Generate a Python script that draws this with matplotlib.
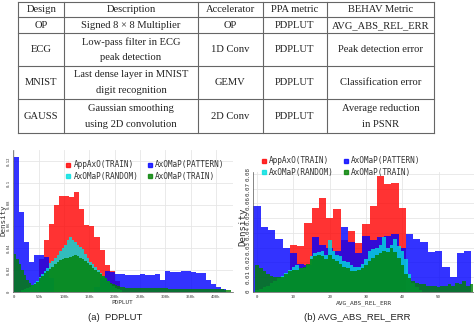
import numpy as np
import matplotlib.pyplot as plt
from matplotlib.lines import Line2D

W, H = 474, 325

# ---- table ----
TABLE_HEADER = ["Design", "Description", "Accelerator", "PPA metric", "BEHAV Metric"]
TABLE_ROWS = [
    ["OP", "Signed 8 × 8 Multiplier", "OP", "PDPLUT", "AVG_ABS_REL_ERR"],
    ["ECG", "Low-pass filter in ECG\npeak detection", "1D Conv", "PDPLUT", "Peak detection error"],
    ["MNIST", "Last dense layer in MNIST\ndigit recognition", "GEMV", "PDPLUT", "Classification error"],
    ["GAUSS", "Gaussian smoothing\nusing 2D convolution", "2D Conv", "PDPLUT", "Average reduction\nin PSNR"],
]

# ---- histograms ----
SERIES = ["AppAxO(TRAIN)", "AxOMaP(PATTERN)", "AxOMaP(RANDOM)", "AxOMaP(TRAIN)"]
COLORS = ["#ff0000", "#0000ff", "#00e0e0", "#008000"]

# PDPLUT (thousands), red/blue 10k bins from 0, cyan/green 5k bins from 0
pdp_red = [0, 0, 0, 0, 0, 0.030, 0.047, 0.062, 0.080, 0.088, 0.088, 0.087, 0.092, 0.076,
           0.061, 0.060, 0.050, 0.038, 0.024, 0.019, 0.010]
pdp_blue = [0.124, 0.073, 0.046, 0.027, 0.034, 0.034, 0.032, 0.012, 0, 0, 0, 0, 0, 0, 0, 0,
            0.004, 0.012, 0.019, 0.018, 0.016, 0.016, 0.015, 0.015, 0.015, 0.016, 0.015,
            0.015, 0.016, 0.011, 0.019, 0.018, 0.018, 0.019, 0.019, 0.018, 0.017, 0.017,
            0.011, 0.007, 0.004, 0.002]
pdp_cyan = [0, 0, 0, 0.001, 0.002, 0.003, 0.004, 0.006, 0.008, 0.010, 0.013, 0.016, 0.019,
            0.022, 0.026, 0.028, 0.031, 0.034, 0.037, 0.040, 0.043, 0.047, 0.050, 0.047,
            0.046, 0.043, 0.041, 0.039, 0.035, 0.031, 0.027, 0.025, 0.023, 0.020, 0.017,
            0.014, 0.012, 0.010, 0.007, 0.005, 0.003, 0.002, 0.001]
pdp_green = [0.035, 0.030, 0.025, 0.020, 0.015, 0.011, 0.008, 0.006, 0.007, 0.009, 0.012,
             0.014, 0.017, 0.019, 0.021, 0.023, 0.025, 0.027, 0.029, 0.030, 0.031, 0.031,
             0.032, 0.033, 0.034, 0.033, 0.031, 0.030, 0.028, 0.026, 0.024, 0.022, 0.020,
             0.018, 0.016, 0.014, 0.012, 0.010, 0.008, 0.007, 0.006, 0.005, 0.004, 0.004,
             0.003, 0.003, 0.003, 0.003, 0.003, 0.003, 0.003, 0.003, 0.003, 0.003, 0.003,
             0.003, 0.003, 0.003, 0.003, 0.003, 0.003, 0.002, 0.002, 0.002, 0.002, 0.002,
             0.002, 0.002, 0.002, 0.002, 0.002, 0.002, 0.002, 0.002, 0.002, 0.002, 0.002,
             0.002, 0.002, 0.002, 0.002, 0.002, 0.002, 0.001, 0.001, 0.001]

# AVG_ABS_REL_ERR, red/blue 2-wide bins from -1, cyan/green 1-wide bins from -0.5
err_red = [0, 0, 0, 0, 0, 0.032, 0.031, 0.047, 0.057, 0.064, 0.050, 0.056, 0.035, 0.041,
           0.033, 0.046, 0.058, 0.079, 0.073, 0.074, 0.057]
err_blue = [0.058, 0.044, 0.042, 0.036, 0.030, 0.026, 0.019, 0.018, 0.037, 0.032, 0.030,
            0.028, 0.044, 0.034, 0.026, 0.038, 0.035, 0.037, 0.038, 0.039, 0.030, 0.039,
            0.036, 0.034, 0.027, 0.028, 0.017, 0.010, 0.026, 0.028]
err_cyan = [0.001, 0.002, 0.003, 0.004, 0.006, 0.007, 0.009, 0.011, 0.013, 0.015, 0.017,
            0.018, 0.016, 0.016, 0.018, 0.024, 0.026, 0.027, 0.028, 0.025, 0.035, 0.028,
            0.025, 0.024, 0.021, 0.020, 0.018, 0.017, 0.017, 0.019, 0.022, 0.028, 0.029,
            0.030, 0.032, 0.037, 0.030, 0.032, 0.036, 0.031, 0.028, 0.022, 0.012, 0.006,
            0.003, 0.001]
err_green = [0.018, 0.016, 0.014, 0.012, 0.011, 0.010, 0.010, 0.010, 0.012, 0.014, 0.015,
             0.015, 0.016, 0.017, 0.019, 0.022, 0.024, 0.025, 0.024, 0.022, 0.025, 0.022,
             0.021, 0.019, 0.017, 0.016, 0.014, 0.014, 0.015, 0.016, 0.018, 0.021, 0.023,
             0.025, 0.026, 0.028, 0.027, 0.030, 0.027, 0.023, 0.018, 0.012, 0.009, 0.007,
             0.006, 0.005, 0.005, 0.004, 0.004, 0.004, 0.003, 0.004, 0.004, 0.005, 0.004,
             0.006, 0.005, 0.007, 0.004, 0.005]

pdp_xticks = [0, 50, 100, 150, 200, 250, 300, 350, 400]
pdp_xlabels = ["0", "50k", "100k", "150k", "200k", "250k", "300k", "350k", "400k"]
pdp_yticks = [0, 0.02, 0.04, 0.06, 0.08, 0.1, 0.12]
pdp_ylabels = ["0", "0.02", "0.04", "0.06", "0.08", "0.1", "0.12"]
err_xticks = [0, 10, 20, 30, 40, 50]
err_yticks = [0, 0.01, 0.02, 0.03, 0.04, 0.05, 0.06, 0.07, 0.08]
err_ylabels = ["0", "0.01", "0.02", "0.03", "0.04", "0.05", "0.06", "0.07", "0.08"]


def fx(px):
    return px / W


def fy(py):
    return 1 - py / H


fig = plt.figure(figsize=(W / 100, H / 100), dpi=100)

# table drawn in pixel coordinates
tab = fig.add_axes([0, 0, 1, 1])
tab.set_xlim(0, W)
tab.set_ylim(H, 0)
tab.axis("off")
col_x = [18.3, 64.3, 197.7, 262.7, 326.7, 434]
row_y = [1.7, 17.3, 33.3, 66, 99.3, 133]
for y in row_y:
    tab.plot([col_x[0], col_x[-1]], [y, y], color="#666666", lw=0.8)
for x in col_x:
    tab.plot([x, x], [row_y[0], row_y[-1]], color="#666666", lw=0.8)
for r, row in enumerate([TABLE_HEADER] + TABLE_ROWS):
    yc = (row_y[r] + row_y[r + 1]) / 2
    for c, cell in enumerate(row):
        xc = (col_x[c] + col_x[c + 1]) / 2
        lines = cell.split("\n")
        for k, line in enumerate(lines):
            yy = yc + (k - (len(lines) - 1) / 2) * 16
            tab.text(xc, yy, line, ha="center", va="center", fontsize=7.6,
                     family="Liberation Serif", color="#222222")


def style_axes(ax):
    ax.grid(color="#e6e6e6", linewidth=0.6)
    ax.set_axisbelow(True)
    for s in ["top", "right"]:
        ax.spines[s].set_visible(False)
    for s in ["left", "bottom"]:
        ax.spines[s].set_color("#555555")
        ax.spines[s].set_linewidth(0.5)
    ax.tick_params(length=0, colors="#333333")
    for lab in ax.get_xticklabels() + ax.get_yticklabels():
        lab.set_family("DejaVu Sans Mono")


def draw_hist(ax, data, starts, widths):
    for vals, x0, w, col in zip(data, starts, widths, COLORS):
        edges = x0 + w * np.arange(len(vals) + 1)
        ax.stairs(vals, edges, fill=True, color=col, alpha=0.8, lw=0)


def add_legend(ax, x, y, size):
    handles = [Line2D([], [], marker="s", ls="none", color=c, alpha=0.8, markersize=3)
               for c in COLORS]
    order = [0, 2, 1, 3]
    leg = ax.legend([handles[i] for i in order], [SERIES[i] for i in order], ncol=2,
                    loc="upper left", bbox_to_anchor=(fx(x), fy(y)),
                    bbox_transform=fig.transFigure, frameon=False, borderpad=0,
                    handlelength=0.5, handletextpad=0.4, columnspacing=1.3,
                    labelspacing=0.35, prop={"family": "DejaVu Sans Mono", "size": size})
    for t in leg.get_texts():
        t.set_color("#333333")


# (a) PDPLUT
axL = fig.add_axes([fx(12.5), fy(291.5), fx(220.5), 141.5 / H])
draw_hist(axL, [pdp_red, pdp_blue, pdp_cyan, pdp_green], [0, 0, 0, 0], [10, 10, 5, 5])
axL.set_xlim(-2, 433.7)
axL.set_ylim(0, 0.1304)
axL.set_xticks(pdp_xticks, pdp_xlabels, fontsize=2.8)
axL.set_yticks(pdp_yticks, pdp_ylabels, fontsize=2.8, rotation=90, va="center")
style_axes(axL)
axL.tick_params(axis="x", pad=2.5)
axL.tick_params(axis="y", pad=1.5)
add_legend(axL, 62.5, 156.5, 5.6)
fig.text(fx(122), fy(302.3), "PDPLUT", ha="center", va="center", fontsize=4.3,
         family="DejaVu Sans Mono", color="#333333")
fig.text(fx(3.2), fy(220), "Density", ha="center", va="center", rotation=90, fontsize=5.4,
         family="DejaVu Sans Mono", color="#333333")

# (b) AVG_ABS_REL_ERR
axR = fig.add_axes([fx(253.5), fy(291.7), fx(220), 119.7 / H])
draw_hist(axR, [err_red, err_blue, err_cyan, err_green], [-1, -1, -0.5, -0.5], [2, 2, 1, 1])
axR.set_xlim(-1, 59.6)
axR.set_ylim(0, 0.0814)
axR.set_xticks(err_xticks, [str(v) for v in err_xticks], fontsize=3.0)
axR.set_yticks(err_yticks, err_ylabels, fontsize=4.2, rotation=90, va="center")
style_axes(axR)
axR.tick_params(axis="x", pad=2.5)
axR.tick_params(axis="y", pad=1.8)
add_legend(axR, 258, 152.5, 5.6)
fig.text(fx(364), fy(303), "AVG_ABS_REL_ERR", ha="center", va="center", fontsize=4.5,
         family="DejaVu Sans Mono", color="#333333")
fig.text(fx(242.5), fy(227), "Density", ha="center", va="center", rotation=90, fontsize=6.6,
         family="DejaVu Sans Mono", color="#333333")

# captions
fig.text(fx(115), fy(317), "(a)  PDPLUT", ha="center", va="center", fontsize=6.8,
         family="Liberation Sans", color="#222222")
fig.text(fx(357), fy(317), "(b) AVG_ABS_REL_ERR", ha="center", va="center", fontsize=6.8,
         family="Liberation Sans", color="#222222")

fig.savefig("out.png", dpi=100)
